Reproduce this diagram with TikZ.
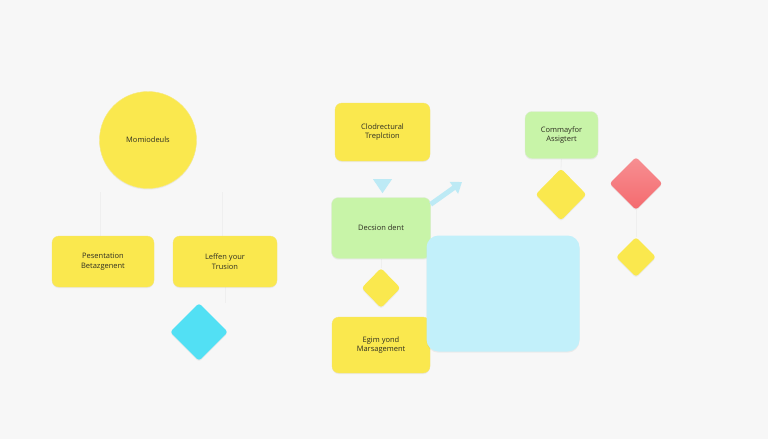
\documentclass[tikz,border=0pt]{standalone}
\usepackage{fontspec}
\setmainfont{Open Sans}
\usetikzlibrary{shapes.geometric,arrows.meta,shadows,backgrounds}
\definecolor{bg}{HTML}{F7F7F7}
\definecolor{ylw}{HTML}{FAE84E}
\definecolor{ylwd}{HTML}{F2DA2E}
\definecolor{grn}{HTML}{C8F4A8}
\definecolor{cyn}{HTML}{52E0F4}
\definecolor{lblu}{HTML}{C2F0FA}
\definecolor{redd}{HTML}{F46A6E}
\definecolor{arr}{HTML}{BDEAF5}
\definecolor{faint}{HTML}{EFEFEF}
\definecolor{txt}{HTML}{2E2E22}
\tikzset{
  lbl/.style={font=\fontsize{7.5}{9.5}\selectfont, text=txt, align=center},
  softshadow/.style={drop shadow={opacity=0.10, shadow xshift=0pt, shadow yshift=-1.2pt}},
  ybox/.style={lbl, rectangle, rounded corners=7pt, fill=ylw, draw=ylwd!70, line width=0.4pt, softshadow, inner sep=0pt},
  gbox/.style={lbl, rectangle, rounded corners=7pt, fill=grn, draw=grn!85!black!40, line width=0.4pt, softshadow, inner sep=0pt},
  dia/.style={diamond, rounded corners=3pt, inner sep=0pt, softshadow},
  faintline/.style={draw=faint, line width=0.8pt},
}
\begin{document}
\begin{tikzpicture}[x=1pt,y=-1pt]
\useasboundingbox (0,0) rectangle (768,439);

% left group
\node[lbl, circle, fill=ylw, draw=ylwd!60, minimum size=97pt, softshadow] (mom) at (148,140) {Momiodeuls};
\node[ybox, minimum width=102pt, minimum height=51pt] (pres) at (103,261.5) {Pesentation\\Betazgenent};
\node[ybox, minimum width=104pt, minimum height=51pt] (leff) at (225,261.5) {Leffen your\\Trusion};
\node[dia, fill=cyn, minimum width=58pt, minimum height=58pt] (cyd) at (199,332) {};

% middle group
\node[ybox, minimum width=95pt, minimum height=58pt] (clod) at (382.5,132) {Clodrectural\\Treplction};
\node[gbox, minimum width=99pt, minimum height=61pt] (dec) at (381,228) {Decsion dent};
\node[dia, fill=ylw, minimum width=39pt, minimum height=40pt] (ymd) at (381,288) {};
\node[ybox, minimum width=98pt, minimum height=56pt] (egim) at (381,345) {Egim yond\\Marsagement};
\node[rectangle, rounded corners=12pt, fill=lblu, minimum width=153pt, minimum height=116pt, softshadow] (big) at (503,293.5) {};

% right group
\node[gbox, minimum width=73pt, minimum height=47pt] (comm) at (561.5,135) {Commayfor\\Assigtert};
\node[dia, fill=ylw, minimum width=51pt, minimum height=52pt] (yrd) at (561,194.5) {};
\node[dia, top color=redd!75, bottom color=redd, minimum width=53pt, minimum height=53pt] (rd) at (636,183.5) {};
\node[dia, fill=ylw, minimum width=40pt, minimum height=40pt] (syd) at (636,257) {};

\coordinate (c1a) at (100,192);
\coordinate (c2a) at (222,192);
\coordinate (arrend) at (462,182);

\begin{scope}[on background layer]
\fill[bg] (0,0) rectangle (768,439);
% faint connectors underneath the shapes
\draw[faintline] (c1a) -- (c1a |- pres.north);
\draw[faintline] (c2a) -- (c2a |- leff.north);
\draw[faintline] (leff.south) -- (leff.south |- cyd.north);
\draw[faintline] (dec.south) -- (ymd.north);
\draw[faintline] (comm.south) -- (yrd.north);
\draw[faintline] (rd.south) -- (syd.north);
\end{scope}

% light blue arrows
\path (clod.south) ++(0,18) coordinate (hA) ++(0,14) coordinate (tipA);
\fill[arr] ([xshift=-9.5pt]hA) -- ([xshift=9.5pt]hA) -- (tipA) -- cycle;
\draw[arr, line width=5pt, -{Triangle[width=14pt,length=10pt]}] (dec.north east) ++(0,7) -- (arrend);
\end{tikzpicture}
\end{document}
